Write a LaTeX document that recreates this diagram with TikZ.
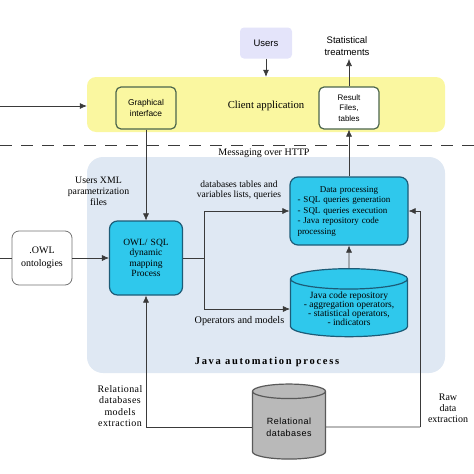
\documentclass[tikz,border=0pt]{standalone}
\usepackage{fontspec}
\setmainfont{Liberation Serif}
\setsansfont{Liberation Sans}
\usepackage{xcolor}
\usetikzlibrary{arrows.meta,positioning,shapes.geometric,calc}
\definecolor{bandyellow}{HTML}{FAF7A0}
\definecolor{bandblue}{HTML}{DFE8F3}
\definecolor{procfill}{HTML}{2FC8EC}
\definecolor{procline}{HTML}{1C5C78}
\definecolor{usersfill}{HTML}{E4E4FA}
\definecolor{dbfill}{HTML}{B9B9B9}
\definecolor{wire}{HTML}{3A3A3A}

\begin{document}
\begin{tikzpicture}[
  x=1pt, y=-1pt,
  every node/.style={font=\fontsize{9.5}{10.5}\selectfont},
  band/.style={rounded corners=9pt, inner sep=0pt},
  frame/.style={draw=black!75!green!40!gray, very thick, rounded corners=5pt, align=center, minimum width=60pt, minimum height=42pt, font=\sffamily\fontsize{8}{10.5}\selectfont},
  proc/.style={draw=procline, very thick, fill=procfill, rounded corners=8pt, align=center},
  repo/.style={draw=procline, very thick, fill=procfill, cylinder, shape border rotate=90, aspect=0.22, align=center, inner sep=1pt},
  lbl/.style={align=center},
  arr/.style={-{Latex[length=7pt,width=6pt]}, wire, semithick},
  wireln/.style={wire, semithick}
]
\useasboundingbox (0,0) rectangle (474,474);
% upper layer
\node[band, fill=bandyellow, minimum width=358pt, minimum height=55pt] (client) at (266,104.5) {};
\node[band, fill=bandblue, rounded corners=16pt, minimum width=358pt, minimum height=216pt] (javaproc) at (266,265) {};
\node[fill=usersfill, rounded corners=4pt, minimum width=52pt, minimum height=31pt, font=\sffamily\fontsize{9.5}{11}\selectfont] (users) at (266,43) {Users};
\node[lbl, font=\sffamily\fontsize{9.5}{12}\selectfont] (stat) at (347,46) {Statistical\\treatments};
\node[frame, fill=bandyellow, font=\sffamily\fontsize{8.4}{11}\selectfont] (gui) at (146,108) {Graphical\\interface};
\node[frame, fill=white] (result) at (349,108) {Result\\Files,\\tables};
\node[font=\fontsize{10.7}{12}\selectfont] (clientlbl) at (266,106) {Client application};
\draw[wire, thick, dash pattern=on 12pt off 9pt] (0,145) -- (474,145);
\node[font=\fontsize{10}{11}\selectfont] (msg) at (264,153) {Messaging over HTTP};
% java automation process
\node[proc, minimum width=73pt, minimum height=74pt, text width=60pt, font=\fontsize{9.5}{10.5}\selectfont] (owlsql) at (146,258) {OWL/ SQL\\dynamic\\mapping\\Process};
\node[draw=black!55, thick, fill=white, rounded corners=7pt, minimum width=60pt, minimum height=54pt, align=center, font=\fontsize{10}{13.5}\selectfont] (owl) at (42,258) {.OWL\\ontologies};
\node[lbl, font=\fontsize{9.8}{10.7}\selectfont] (xmllbl) at (98.5,191.5) {Users XML\\parametrization\\files};
\node[proc, minimum width=118pt, minimum height=68pt, align=left, text width=103pt, font=\fontsize{9}{10.5}\selectfont] (dataproc) at (349,211) {\centering Data processing\par\raggedright - SQL queries generation\\- SQL queries execution\\- Java repository code\\processing};
\node[lbl] (dblbl) at (239,190) {databases tables and\\variables lists, queries};
\node[repo, minimum width=117pt, minimum height=68pt, font=\fontsize{9.5}{9}\selectfont] (javarepo) at (349,309) {Java code repository\\- aggregation operators,\\- statistical operators,\\- indicators};
\node[font=\fontsize{10.2}{11}\selectfont] (oplbl) at (239.5,321) {Operators and models};
\node[font=\bfseries\fontsize{10.5}{12}\selectfont\addfontfeature{LetterSpace=16}] (javalbl) at (267,362) {Java automation process};
% databases
\node[draw=black!65, very thick, fill=dbfill, cylinder, shape border rotate=90, aspect=0.28, minimum width=73pt, minimum height=75pt, align=center, font=\sffamily\fontsize{9}{12}\selectfont\addfontfeature{LetterSpace=5}] (reldb) at (289,427) {Relational\\databases};
\node[lbl, font=\fontsize{10}{11.3}\selectfont\addfontfeature{LetterSpace=4}] (rellbl) at (120,406) {Relational\\databases\\models\\extraction};
\node[lbl, font=\fontsize{10}{11}\selectfont] (rawlbl) at (448,408) {Raw\\data\\extraction};
\coordinate (inclient) at (0,106);
\coordinate (inowl) at (0,258);
\coordinate (split) at (204,258);
\coordinate (rawcorner) at (420,427);
% connectors
\draw[arr] (users) -- (client.north);
\draw[arr] (result.north) -- (result.north |- stat.south);
\draw[arr] (inclient) -- (client.west |- inclient);
\draw[arr] (gui) -- (owlsql);
\draw[arr] (dataproc) -- (result);
\draw[wireln] (inowl) -- (owl);
\draw[arr] (owl) -- (owlsql);
\draw[wireln] (owlsql.east) -- (split);
\draw[arr] (split) |- (dataproc.west);
\draw[arr] (split) |- (javarepo.west);
\draw[arr] (javarepo.north) -- (dataproc.south);
\draw[wireln] (reldb.east) -- (rawcorner);
\draw[arr] (rawcorner) |- (dataproc.east);
\draw[arr] (reldb.west) -| (owlsql.south);
\end{tikzpicture}
\end{document}
